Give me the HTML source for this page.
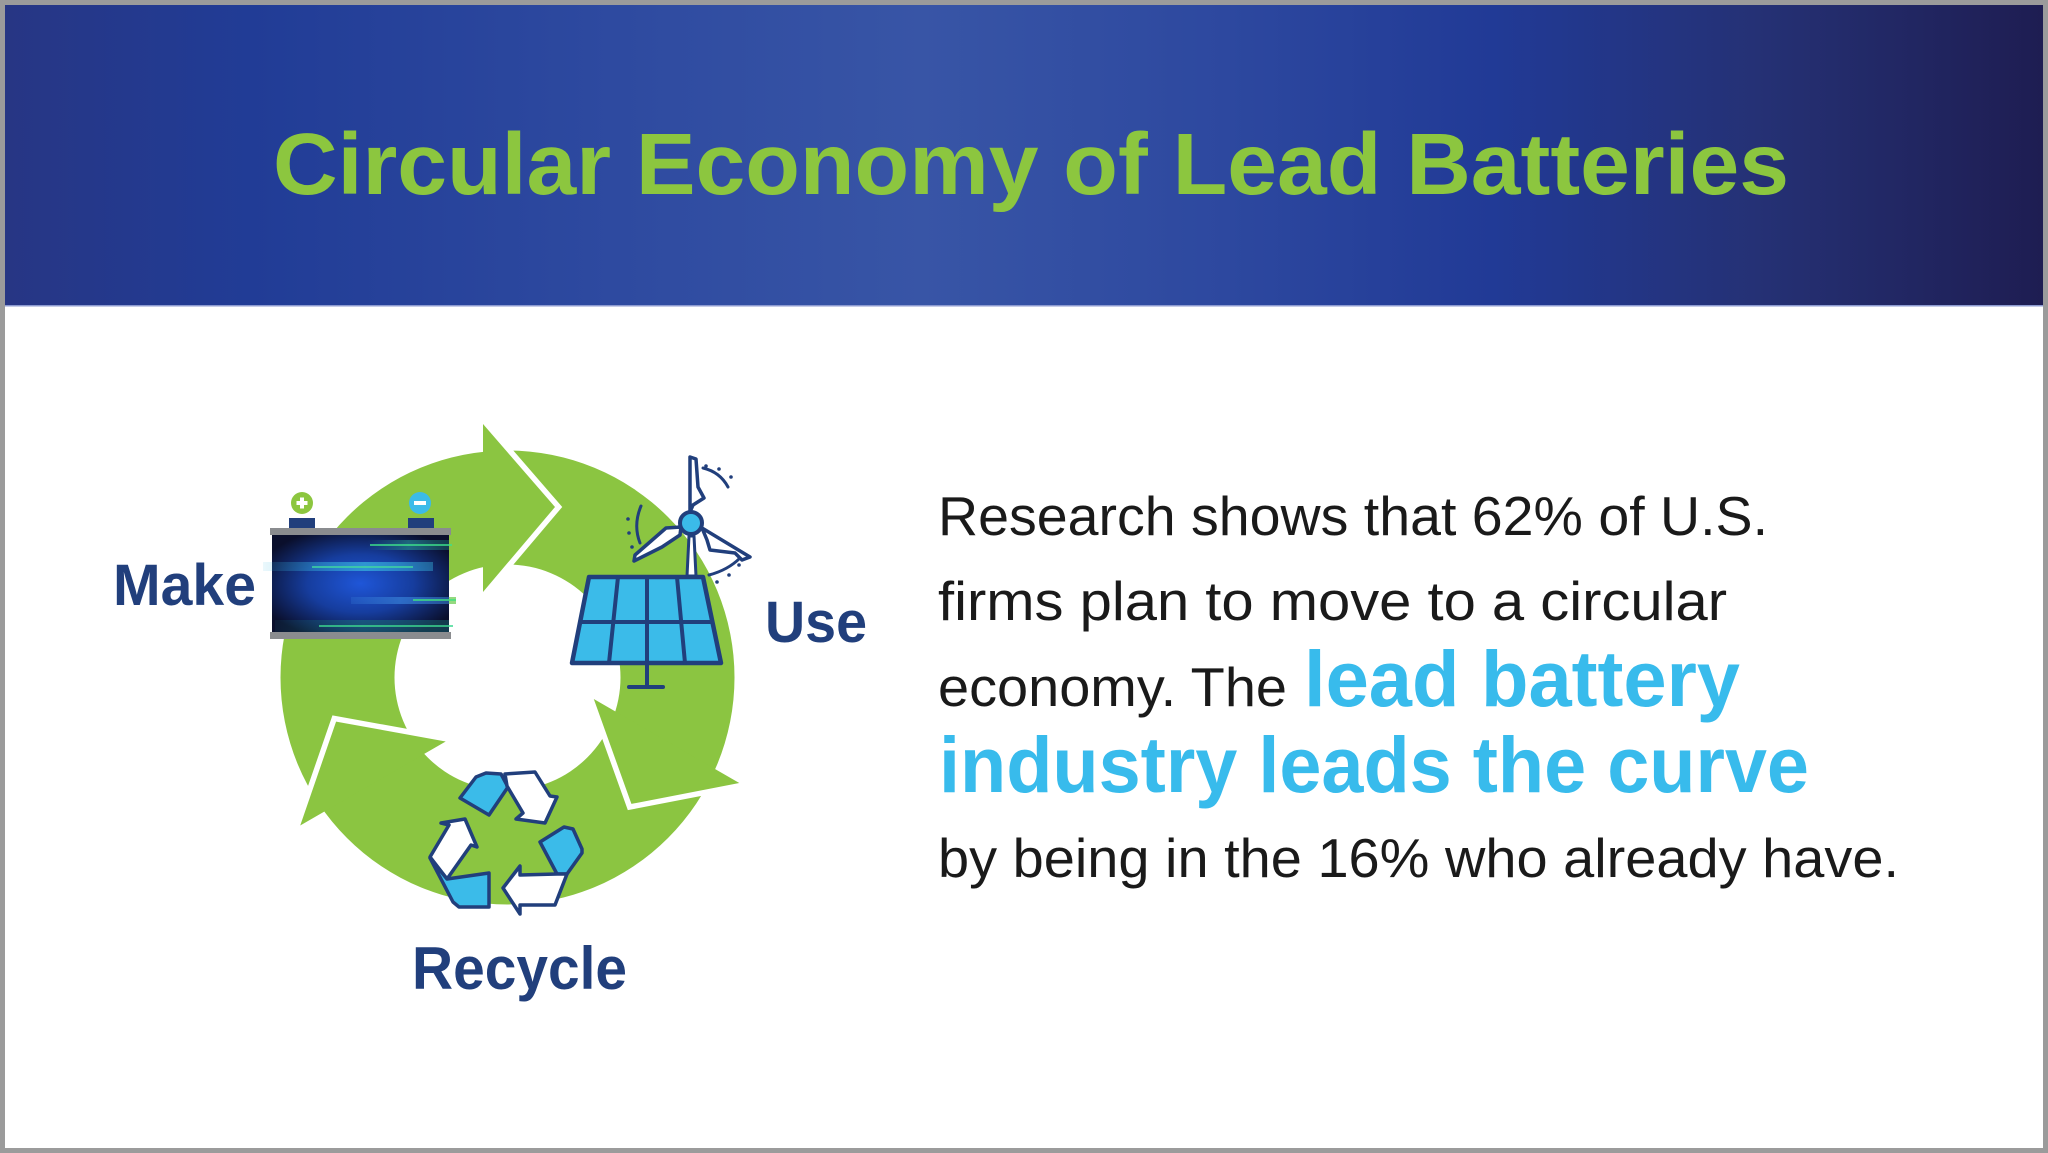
<!DOCTYPE html>
<html><head><meta charset="utf-8"><style>
html,body{margin:0;padding:0;background:#9b9b9b;}
svg{display:block;}
</style></head><body>
<svg width="2048" height="1153" viewBox="0 0 2048 1153" xmlns="http://www.w3.org/2000/svg">
<defs>
<linearGradient id="ban" gradientUnits="userSpaceOnUse" x1="5" y1="0" x2="2043" y2="0">
<stop offset="0" stop-color="#273684"/>
<stop offset="0.12" stop-color="#213c96"/>
<stop offset="0.3" stop-color="#2e4aa0"/>
<stop offset="0.45" stop-color="#3855a6"/>
<stop offset="0.6" stop-color="#2d489f"/>
<stop offset="0.73" stop-color="#213a96"/>
<stop offset="0.86" stop-color="#253175"/>
<stop offset="1" stop-color="#1e1d52"/>
</linearGradient>
<radialGradient id="batt" cx="0.5" cy="0.5" r="0.6">
<stop offset="0" stop-color="#1f56d8"/>
<stop offset="0.5" stop-color="#163d9e"/>
<stop offset="1" stop-color="#0a0f2c"/>
</radialGradient>
<linearGradient id="s1" x1="0" x2="1"><stop offset="0" stop-color="#2aa0a0" stop-opacity="0"/><stop offset="0.5" stop-color="#2aa0a0" stop-opacity="0.55"/><stop offset="1" stop-color="#2aa0a0" stop-opacity="0.3"/></linearGradient>
<linearGradient id="s2" x1="0" x2="1"><stop offset="0" stop-color="#38b8e0" stop-opacity="0.1"/><stop offset="0.6" stop-color="#38b8e0" stop-opacity="0.7"/><stop offset="1" stop-color="#38b8e0" stop-opacity="0.4"/></linearGradient>
<linearGradient id="s3" x1="0" x2="1"><stop offset="0" stop-color="#3c8ae0" stop-opacity="0.2"/><stop offset="0.5" stop-color="#3c8ae0" stop-opacity="0.6"/><stop offset="1" stop-color="#3c8ae0" stop-opacity="0.5"/></linearGradient>
<linearGradient id="s4" x1="0" x2="1"><stop offset="0" stop-color="#1f7a80" stop-opacity="0.1"/><stop offset="0.5" stop-color="#1f7a80" stop-opacity="0.5"/><stop offset="1" stop-color="#1f7a80" stop-opacity="0.4"/></linearGradient>
</defs>

<!-- frame -->
<rect x="0" y="0" width="2048" height="1153" fill="#9b9b9b"/>
<rect x="5" y="5" width="2038" height="1143" fill="#ffffff"/>
<rect x="5" y="5" width="2038" height="301" fill="url(#ban)"/>
<rect x="5" y="305" width="2038" height="1.5" fill="#8c9ad0"/>

<text x="273" y="194" textLength="1516" lengthAdjust="spacingAndGlyphs" font-family="Liberation Sans, sans-serif" font-weight="bold" font-size="87" fill="#8cc63f">Circular Economy of Lead Batteries</text>

<!-- ring -->
<path fill="#8bc541" fill-rule="evenodd" d="M280.5,677.5 a227,227 0 1,0 454,0 a227,227 0 1,0 -454,0 Z M394.5,677.5 a113,113 0 1,0 226,0 a113,113 0 1,0 -226,0 Z"/>
<g>
<polyline points="483,424 555,507 483,592" fill="none" stroke="#fff" stroke-width="11" stroke-linejoin="miter"/>
<polygon points="483,424 555,507 483,592" fill="#8bc541"/>
</g>
<g transform="rotate(120 507.5 677.5)">
<polyline points="483,424 555,507 483,592" fill="none" stroke="#fff" stroke-width="11" stroke-linejoin="miter"/>
<polygon points="483,424 555,507 483,592" fill="#8bc541"/>
</g>
<g transform="rotate(240 507.5 677.5)">
<polyline points="483,424 555,507 483,592" fill="none" stroke="#fff" stroke-width="11" stroke-linejoin="miter"/>
<polygon points="483,424 555,507 483,592" fill="#8bc541"/>
</g>

<!-- battery -->
<circle cx="302" cy="503" r="11" fill="#8cc63f"/>
<rect x="296.5" y="501" width="11" height="4" fill="#fff"/>
<rect x="300" y="497.5" width="4" height="11" fill="#fff"/>
<circle cx="420" cy="503" r="11" fill="#3bbbe9"/>
<rect x="414" y="501" width="12" height="4" fill="#fff"/>
<rect x="289" y="518" width="26" height="10" fill="#213f7c"/>
<rect x="408" y="518" width="26" height="10" fill="#213f7c"/>
<rect x="270" y="528" width="181" height="7" fill="#8a8c8f"/>
<rect x="272" y="535" width="177" height="97" fill="url(#batt)"/>
<rect x="270" y="632" width="181" height="7" fill="#8a8c8f"/>
<rect x="368" y="540" width="81" height="10" fill="url(#s1)"/>
<line x1="370" y1="545" x2="452" y2="545" stroke="#3de08a" stroke-width="1.5"/>
<rect x="263" y="562" width="170" height="9" fill="url(#s2)"/>
<line x1="312" y1="567" x2="413" y2="567" stroke="#40d8a0" stroke-width="1.5"/>
<rect x="351" y="597" width="98" height="7" fill="url(#s3)"/>
<rect x="449" y="597" width="7" height="7" fill="#7ad060" opacity="0.8"/>
<line x1="413" y1="600" x2="456" y2="600" stroke="#40e080" stroke-width="1.5"/>
<rect x="275" y="620" width="174" height="12" fill="url(#s4)"/>
<line x1="319" y1="626" x2="453" y2="626" stroke="#3cd890" stroke-width="1.5"/>

<!-- solar panel -->
<g stroke="#213f7c" stroke-linejoin="round" stroke-linecap="round">
<polygon points="589,577 703,577 721,663 572,663" fill="#3bbbe9" stroke-width="4.5"/>
<line x1="580" y1="622" x2="712" y2="622" stroke-width="4"/>
<line x1="618" y1="577" x2="609" y2="663" stroke-width="4"/>
<line x1="647" y1="577" x2="647" y2="663" stroke-width="4"/>
<line x1="677" y1="577" x2="685" y2="663" stroke-width="4"/>
<line x1="647" y1="663" x2="647" y2="687" stroke-width="4"/>
<line x1="629" y1="687" x2="663" y2="687" stroke-width="4"/>
<!-- turbine -->
<polygon points="689,536 694,536 696,576 687,576" fill="#fff" stroke-width="3"/>
<polygon points="690,512 690,457 696,459 698,487 704,498 693,505" fill="#fff" stroke-width="3.5"/>
<polygon points="681,527 666,528 635,555 634,561 662,547 680,535" fill="#fff" stroke-width="3.5"/>
<polygon points="702,528 750,557 742,560 735,553 710,550 707,540" fill="#fff" stroke-width="3.5"/>
<circle cx="691" cy="523" r="11" fill="#3bbbe9" stroke-width="4"/>
<path d="M703,468 Q720,472 728,487" fill="none" stroke-width="3"/>
<path d="M641,506 Q633,525 640,543" fill="none" stroke-width="3"/>
<path d="M709,575 Q728,570 740,558" fill="none" stroke-width="3"/>
</g>
<g fill="#213f7c">
<circle cx="706" cy="466" r="1.8"/><circle cx="719" cy="469" r="1.8"/><circle cx="731" cy="477" r="1.8"/>
<circle cx="628" cy="519" r="1.8"/><circle cx="629" cy="533" r="1.8"/><circle cx="632" cy="547" r="1.8"/>
<circle cx="739" cy="565" r="1.8"/><circle cx="729" cy="575" r="1.8"/><circle cx="717" cy="582" r="1.8"/>
</g>

<!-- recycle -->
<g stroke="#213f7c" stroke-width="3.5" stroke-linejoin="round">
<polygon points="460,798 476,777 486,773 501,774 508,787 489,815" fill="#3bbbe9"/>
<polygon points="505,774 535,772 550,796 557,797 545,823 516,819 523,813 507,786" fill="#fff"/>
<polygon points="540,842 564,827 573,829 582,849 582,853 567,874 557,874" fill="#3bbbe9"/>
<polygon points="567,874 555,905 520,905 520,914 503,888 520,866 520,875 557,874" fill="#fff"/>
<polygon points="430,857 449,825 441,823 465,819 477,847 471,845 447,879" fill="#fff"/>
<polygon points="447,879 489,873 489,907 459,907 453,902 430,858" fill="#3bbbe9"/>
</g>

<!-- labels -->
<g font-family="Liberation Sans, sans-serif" font-weight="bold" fill="#213f7c">
<text x="113" y="605" font-size="58" textLength="143" lengthAdjust="spacingAndGlyphs">Make</text>
<text x="765" y="642" font-size="58" textLength="102" lengthAdjust="spacingAndGlyphs">Use</text>
<text x="412" y="989" font-size="60" textLength="215" lengthAdjust="spacingAndGlyphs">Recycle</text>
</g>

<!-- body text -->
<g font-family="Liberation Sans, sans-serif" font-size="55" fill="#1a1a1a">
<text x="938" y="535" textLength="830" lengthAdjust="spacingAndGlyphs">Research shows that 62% of U.S.</text>
<text x="938" y="620" textLength="789" lengthAdjust="spacingAndGlyphs">firms plan to move to a circular</text>
<text x="938" y="706" textLength="349" lengthAdjust="spacingAndGlyphs">economy. The</text>
<text x="938" y="877" textLength="961" lengthAdjust="spacingAndGlyphs">by being in the 16% who already have.</text>
</g>
<g font-family="Liberation Sans, sans-serif" font-weight="bold" font-size="79" fill="#38bbec">
<text x="1304" y="706" textLength="436" lengthAdjust="spacingAndGlyphs">lead battery</text>
<text x="939" y="792" textLength="870" lengthAdjust="spacingAndGlyphs">industry leads the curve</text>
</g>
</svg>
</body></html>
